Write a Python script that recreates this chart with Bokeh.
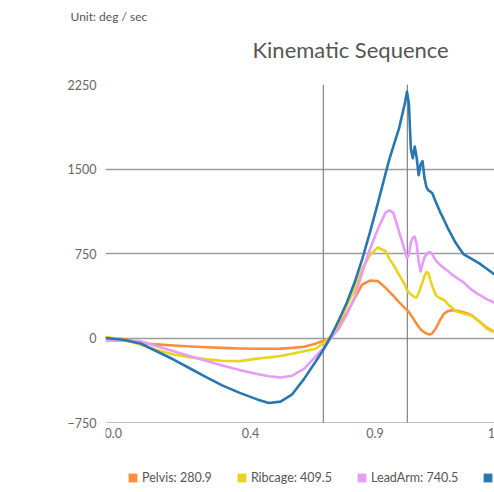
from bokeh.plotting import figure
from bokeh.models import Range1d, FixedTicker, Legend, LegendItem, Title, Span
from bokeh.core.properties import value
from bokeh.embed import file_html
from bokeh.resources import INLINE

# ---- data ----
frames = [0, 4.5, 9, 13, 17.5, 22, 26, 30, 34.5, 39,
          42, 45, 48, 51, 54, 56, 58, 60, 62, 64,
          66, 68, 70, 72, 73, 74, 75.5, 77, 77.5, 78,
          78.5, 79, 79.5, 80, 80.5, 81, 81.5, 82, 82.5, 83,
          83.5, 84, 85, 86, 87, 88, 89, 90, 92, 94,
          96, 98, 100, 102]

pelvis = [0, -10, -43, -57, -67, -75, -82, -88, -93, -95,
          -96, -94, -88, -78, -50, -25, 5, 100, 220, 350,
          475, 510, 505, 445, 410, 375, 316, 265, 250, 230,
          205, 180, 150, 125, 100, 78, 62, 50, 40, 33,
          32, 42, 90, 160, 215, 238, 247, 243, 228, 205,
          150, 92, 52, 30]

ribcage = [10, -15, -58, -105, -147, -172, -190, -202, -205, -183,
           -172, -160, -140, -118, -95, -45, 15, 135, 285, 430,
           615, 735, 805, 770, 700, 650, 560, 470, 425, 402,
           388, 375, 362, 360, 400, 450, 495, 550, 585, 575,
           515, 460, 375, 352, 340, 300, 270, 240, 218, 200,
           150, 82, 50, 30]

lead_arm = [-25, -22, -28, -70, -117, -165, -205, -245, -285, -320,
            -340, -350, -335, -275, -165, -90, 0, 85, 205, 360,
            580, 790, 965, 1115, 1133, 1110, 940, 770, 710, 740,
            850, 890, 900, 830, 680, 590, 660, 714, 740, 760,
            762, 745, 685, 650, 620, 594, 565, 540, 495, 431,
            385, 345, 313, 290]

lead_hand = [0, -15, -49, -115, -191, -275, -350, -420, -487, -545,
             -577, -565, -500, -365, -210, -105, 20, 160, 310, 490,
             700, 940, 1195, 1460, 1590, 1700, 1865, 2090, 2187, 2080,
             1680, 1595, 1700, 1600, 1445, 1540, 1570, 1420, 1340, 1310,
             1300, 1285, 1200, 1120, 1050, 975, 910, 845, 745, 705,
             665, 615, 565, 520]

series_names = ["Pelvis", "Ribcage", "LeadArm", "LeadHand"]
impact_values = [280.9, 409.5, 740.5, 2187.3]
colors = ["#FD8D3C", "#E8D41C", "#E59DF6", "#2877B1"]

x_tick_positions = [2.0, 37.3, 69.3, 100.5]
x_tick_labels = ["0.0", "0.4", "0.9", "1.3"]
y_ticks = [-750, 0, 750, 1500, 2250]
event_frames = [56.0, 77.6]

FONT = "Lato"
TEXT = "#555555"

# layout (pixels): plot area top 84, value axis bottom at 422, canvas bottom 492
W, H = 494, 492
TOP, AXIS_Y, LEFT = 84, 422, 105
px_per_unit = (AXIS_Y - TOP) / (y_ticks[-1] - y_ticks[0])
y_bottom = y_ticks[0] - (H - AXIS_Y) / px_per_unit

p = figure(width=W, height=H, output_backend="svg", toolbar_location=None,
           x_range=Range1d(0, 100), y_range=Range1d(y_bottom, y_ticks[-1]),
           x_axis_location=None,
           min_border_left=LEFT, min_border_right=0, min_border_top=TOP, min_border_bottom=0,
           title="Unit: deg / sec")
p.outline_line_color = None
p.background_fill_color = "white"
p.xgrid.visible = False

p.title.text_font = FONT
p.title.text_font_size = "12px"
p.title.text_font_style = "normal"
p.title.text_color = TEXT
p.title.align = "left"
p.title.offset = -35
p.title.standoff = -23

p.add_layout(Title(text="Kinematic Sequence", text_font=FONT, text_font_size="22px",
                   text_font_style="normal", text_color=TEXT, align="left",
                   offset=147, standoff=43), "above")

# value axis
p.yaxis.ticker = FixedTicker(ticks=y_ticks)
p.yaxis.axis_line_color = None
p.yaxis.major_tick_line_color = None
p.yaxis.minor_tick_line_color = None
p.yaxis.major_tick_out = 0
p.yaxis.major_tick_in = 0
p.yaxis.major_label_standoff = 9
p.yaxis.major_label_text_font = FONT
p.yaxis.major_label_text_font_size = "12.5px"
p.yaxis.major_label_text_color = "#666666"

p.ygrid.ticker = FixedTicker(ticks=y_ticks[1:])
p.ygrid.grid_line_color = "#9c9c9c"
p.ygrid.grid_line_width = 1.3

# bottom line of the chart (lighter, like an axis line)
p.add_layout(Span(location=y_ticks[0], dimension="width", line_color="#c2c2c2",
                  line_width=1.2, level="underlay"))

# event markers (vertical lines between the bottom and top value ticks)
p.segment(x0=event_frames, y0=[y_ticks[0]] * len(event_frames),
          x1=event_frames, y1=[y_ticks[-1]] * len(event_frames),
          line_color="#858585", line_width=1.2)

# time labels under the bottom line of the value axis
p.text(x=x_tick_positions, y=[y_ticks[0]] * len(x_tick_positions), text=x_tick_labels,
       text_align="center", text_baseline="top", y_offset=5,
       text_font=value(FONT), text_font_size="12.5px", text_color="#666666")

series = [pelvis, ribcage, lead_arm, lead_hand]
items = []
nan = float("nan")
for name, vals, col, imp in zip(series_names, series, colors, impact_values):
    p.line(frames, vals, line_color=col, line_width=2.6, line_join="round")
    sq = p.quad(left=[nan], right=[nan], top=[nan], bottom=[nan], fill_color=col, line_color=None)
    items.append(LegendItem(label=f"{name}: {imp}", renderers=[sq]))

legend = Legend(items=items, orientation="horizontal", location=(22, 7),
                glyph_width=11, glyph_height=11, label_standoff=4, spacing=24,
                padding=0, margin=0, border_line_color=None, background_fill_alpha=0,
                label_text_font=FONT, label_text_font_size="12.5px", label_text_color=TEXT)
p.add_layout(legend, "center")

open("out.html", "w").write(file_html(p, INLINE))
